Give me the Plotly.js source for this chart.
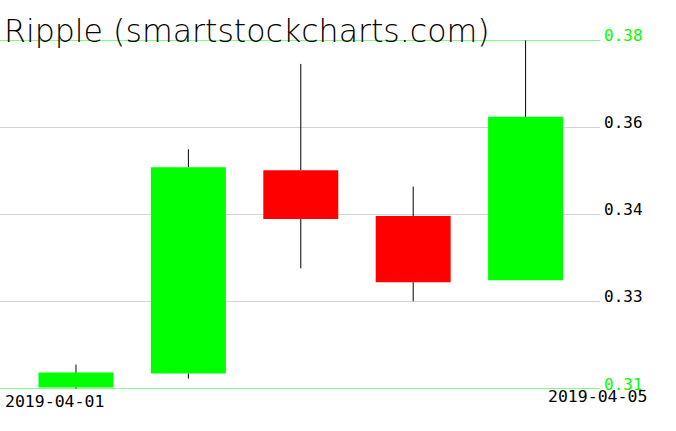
<!DOCTYPE html>
<html>
<head>
<meta charset="utf-8">
<script src="https://cdn.plot.ly/plotly-3.0.1.min.js"></script>
<style>html,body{margin:0;padding:0;background:#fff;}#chart{width:676px;height:431px;}</style>
</head>
<body>
<div id="chart"></div>
<script>
var titleText = 'Ripple (smartstockcharts.com)';
var dates = ['2019-04-01', '2019-04-02', '2019-04-03', '2019-04-04', '2019-04-05'];
var openVals  = [0.3103, 0.3131, 0.3539, 0.3447, 0.3318];
var highVals  = [0.3149, 0.3581, 0.3752, 0.3506, 0.3800];
var lowVals   = [0.3097, 0.3121, 0.3342, 0.3276, 0.3318];
var closeVals = [0.3133, 0.3545, 0.3441, 0.3314, 0.3646];
var yTickVals = [0.31, 0.3275, 0.345, 0.3625, 0.38];
var yTickLabels = ['0.31', '0.33', '0.34', '0.36', '0.38'];

var UP = '#00ff00', DOWN = '#ff0000';
var idx = dates.map(function (d, i) { return i; });

// bodies
var bodyBase = idx.map(function (i) { return Math.min(openVals[i], closeVals[i]); });
var bodyLen = idx.map(function (i) { return Math.abs(closeVals[i] - openVals[i]); });
var bodyCol = idx.map(function (i) { return closeVals[i] >= openVals[i] ? UP : DOWN; });

// wicks (outside the body)
var wx = [], wy = [];
idx.forEach(function (i) {
  var lo = Math.min(openVals[i], closeVals[i]);
  var hi = Math.max(openVals[i], closeVals[i]);
  wx.push(i, i, null, i, i, null);
  wy.push(lowVals[i], lo, null, hi, highVals[i], null);
});

var yTickText = yTickLabels.map(function (t, k) {
  return (k === 0 || k === yTickLabels.length - 1) ? '<span style="color:#00ff00">' + t + '</span>' : t;
});

var traces = [
  {
    type: 'bar', x: idx, y: bodyLen, base: bodyBase, width: 0.667,
    marker: { color: bodyCol, line: { width: 0 } },
    hoverinfo: 'skip', showlegend: false
  },
  {
    type: 'scatter', mode: 'lines', x: wx, y: wy,
    line: { color: '#000000', width: 1 }, connectgaps: false,
    hoverinfo: 'skip', showlegend: false
  }
];

var monoFont = '"DejaVu Sans Mono", monospace';
var yMin = yTickVals[0], yMax = yTickVals[yTickVals.length - 1];

var layout = {
  width: 676, height: 431,
  paper_bgcolor: '#ffffff', plot_bgcolor: '#ffffff',
  margin: { l: 0, r: 76, t: 40, b: 42, pad: 0 },
  showlegend: false,
  title: {
    text: titleText,
    font: { family: '"DejaVu Sans", sans-serif', size: 31.6, weight: 200, color: '#000000' },
    x: 4 / 676, xanchor: 'left', xref: 'container',
    y: 1 - 42 / 431, yanchor: 'bottom', yref: 'container'
  },
  xaxis: {
    type: 'linear', range: [-0.676, 4.662],
    showgrid: false, zeroline: false, showticklabels: false, ticks: '',
    showline: false, fixedrange: true
  },
  yaxis: {
    side: 'right', range: [yMin, yMax],
    tickmode: 'array', tickvals: yTickVals, ticktext: yTickText,
    ticks: '', showline: false, zeroline: false,
    showgrid: true, gridcolor: '#d3d3d3', gridwidth: 1,
    tickfont: { family: monoFont, size: 16, color: '#000000' },
    ticklabelstandoff: 3, ticklabelshift: -5,
    fixedrange: true
  },
  shapes: [
    { type: 'line', xref: 'paper', yref: 'y', x0: 0, x1: 1, y0: yMin, y1: yMin,
      line: { color: '#00ff00', width: 1 }, layer: 'above' },
    { type: 'line', xref: 'paper', yref: 'y', x0: 0, x1: 1, y0: yMax, y1: yMax,
      line: { color: '#00ff00', width: 1 }, layer: 'above' }
  ],
  annotations: [
    {
      text: dates[0], xref: 'paper', yref: 'paper',
      x: 3 / 600, y: 0, xanchor: 'left', yanchor: 'top', yshift: -1,
      showarrow: false, font: { family: monoFont, size: 16.5, color: '#000000' }
    },
    {
      text: dates[dates.length - 1], xref: 'paper', yref: 'paper',
      x: 649 / 600, y: 0, xanchor: 'right', yanchor: 'top', yshift: 4,
      showarrow: false, font: { family: monoFont, size: 16.5, color: '#000000' }
    }
  ]
};

Plotly.newPlot('chart', traces, layout, { displayModeBar: false, staticPlot: true });
</script>
</body>
</html>
